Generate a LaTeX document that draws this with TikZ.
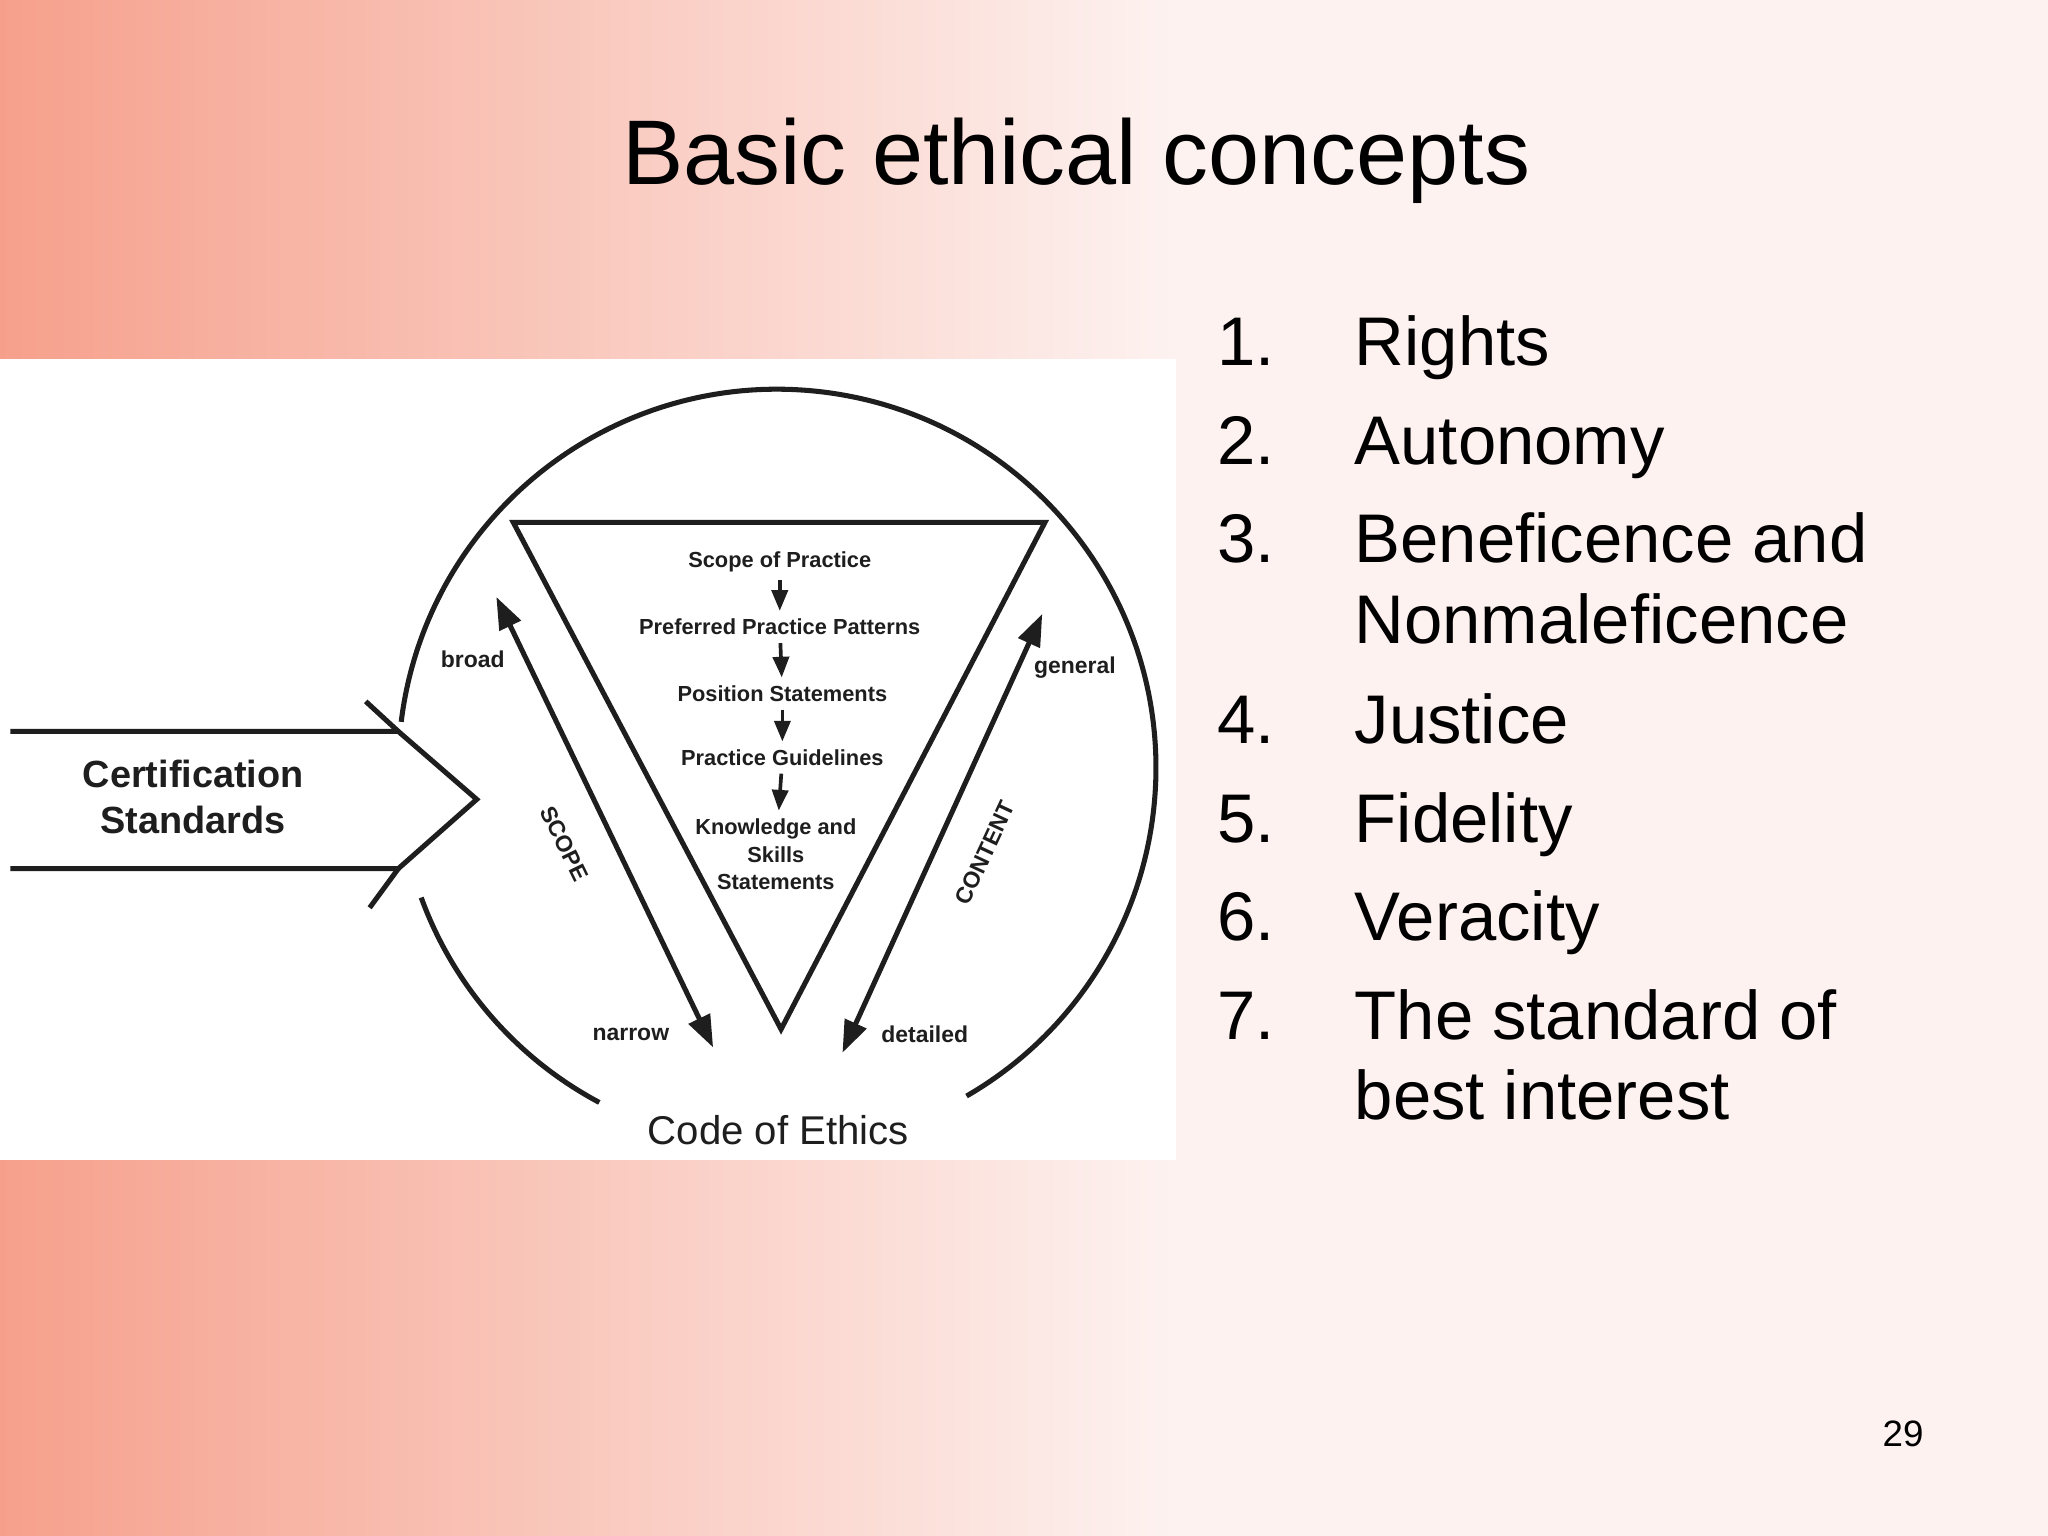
\documentclass[tikz,border=0pt]{standalone}
\usepackage{fontspec}
\setmainfont{Liberation Sans}
\usetikzlibrary{arrows.meta}
\definecolor{bgl}{RGB}{246,160,140}
\definecolor{bgr}{RGB}{253,242,240}
\definecolor{ink}{RGB}{30,30,30}
\tikzset{
 inner/.style={font=\fontsize{9.5}{11}\selectfont\bfseries, text=ink},
 lab/.style={font=\fontsize{10}{12}\selectfont\bfseries, text=ink},
 item/.style={font=\fontsize{30}{34}\selectfont, anchor=base west},
 ln/.style={line width=2.2pt, draw=ink},
 dar/.style={line width=1.6pt, draw=ink, -{Triangle[length=9pt,width=7pt]}},
}
\begin{document}
\begin{tikzpicture}[x=0.02cm,y=-0.02cm]
\useasboundingbox (0,0) rectangle (1568,1176);
\fill[bgr] (0,0) rectangle (1568,1176);
\shade[left color=bgl, right color=bgr] (0,0) rectangle (900,1176);
\node[font=\fontsize{40}{46}\selectfont] (title) at (824,123) {Basic ethical concepts};
\fill[white] (0,275) rectangle (900,888);
% circle arcs
\draw[ln] ([shift={(-173:290)}]595,588) arc[start angle=-173, end angle=60, radius=290];
\draw[ln] ([shift={(-200:290)}]595,588) arc[start angle=-200, end angle=-242, radius=290];
% certification arrow
\coordinate (c1) at (8,560); \coordinate (c2) at (305,560); \coordinate (tip) at (365,612);
\coordinate (c3) at (305,665); \coordinate (c4) at (8,665);
\draw[ln] (c1) -- (c2) -- (tip) -- (c3) -- (c4);
\draw[ln] (280,537) -- (c2); \draw[ln] (c3) -- (283,695);
\node[font=\fontsize{16.5}{20}\selectfont\bfseries, text=ink, align=center] (cert) at (148,610) {Certification\\Standards};
% triangle
\coordinate (t1) at (393,400); \coordinate (t2) at (800,400); \coordinate (t3) at (598,788);
\draw[ln] (t1) -- (t2) -- (t3) -- cycle;
\node[inner] (n1) at (597,430) {Scope of Practice};
\node[inner] (n2) at (597,480) {Preferred Practice Patterns};
\node[inner] (n3) at (599,531) {Position Statements};
\node[inner] (n4) at (599,580) {Practice Guidelines};
\node[inner, align=center] (n5) at (594,654) {Knowledge and\\[1pt]Skills\\[1pt]Statements};
\draw[dar] (n1) -- (n2); \draw[dar] (n2) -- (n3); \draw[dar] (n3) -- (n4); \draw[dar] (n4) -- (n5);
% scope arrow
\coordinate (s1) at (380,457); \coordinate (s2) at (546,802);
\draw[line width=2.2pt, draw=ink, {Triangle[length=14pt,width=10pt]}-{Triangle[length=14pt,width=10pt]}] (s1) -- (s2);
\node[lab, rotate=-64] (scope) at (432,646) {SCOPE};
\node[lab] (broad) at (362,505) {broad};
\node[lab] (narrow) at (483,792) {narrow};
% content arrow
\coordinate (k1) at (798,470); \coordinate (k2) at (645,806);
\draw[line width=2.2pt, draw=ink, {Triangle[length=14pt,width=10pt]}-{Triangle[length=14pt,width=10pt]}] (k1) -- (k2);
\node[lab, rotate=65] (content) at (754,653) {CONTENT};
\node[lab] (general) at (823,511) {general};
\node[lab] (detailed) at (708,792) {detailed};
\node[font=\fontsize{17.5}{21}\selectfont, text=ink] (code) at (596,865) {Code of Ethics};
% list
\foreach \n/\y/\t in {1/280/Rights, 2/356/Autonomy, 3/431/Beneficence and, 4/569/Justice, 5/645/Fidelity, 6/720/Veracity, 7/796/The standard of}
  {\node[item] (num\n) at (926,\y) {\n.}; \node[item] (it\n) at (1031,\y) {\t};}
\node[item] (it3b) at (1031,493) {Nonmaleficence};
\node[item] (it7b) at (1031,857) {best interest};
\node[font=\fontsize{16}{18}\selectfont] (page) at (1457,1098) {29};
\end{tikzpicture}
\end{document}
